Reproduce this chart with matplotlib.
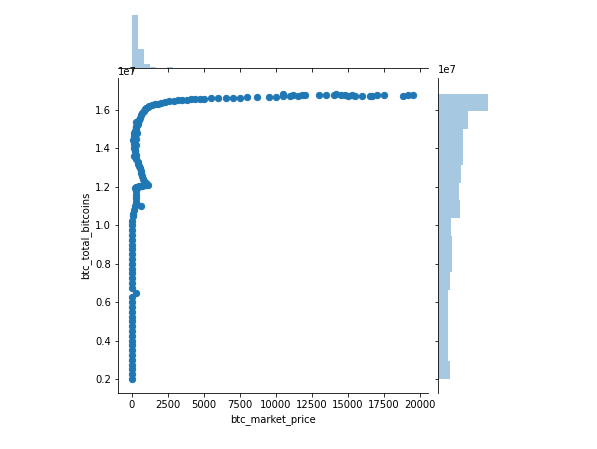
import numpy as np
import matplotlib
matplotlib.use("Agg")
import matplotlib.pyplot as plt

# ---------- data (y in millions of BTC) ----------
price = [0, 0, 0, 0, 0, 0, 0, 0, 0, 0, 0, 0, 0, 0, 0, 0, 0, 0,
         0, 0, 0, 0, 0, 0, 0, 0, 5, 5, 10, 10, 15, 20, 30, 40, 250,
         100, 150, 200, 250, 300, 600, 250, 300,
         200, 300, 400, 500, 600, 700, 800, 900, 1000, 1100,
         950, 850, 750, 700, 650, 600, 550, 500, 450, 400,
         300, 250, 200, 150, 120, 100, 120, 150, 200, 250,
         300, 350, 400, 450, 500, 550, 600, 700, 800,
         900, 1000, 1100, 1200, 1400, 1600, 1800, 2000, 2300,
         2600, 2900, 3200, 3500, 3800, 4100, 4400, 4700, 5000,
         5500, 6000, 6500, 7000, 7500, 8000, 8700, 9500, 10000,
         10500, 11000, 11500, 12000, 13000, 13500, 14000, 14500,
         15000, 15500, 16000, 16500, 17000, 17500, 18800, 19200, 19500,
         10500, 11200, 11800, 14200, 14800, 15300, 16700,
         150, 200, 250, 300, 350, 300, 250]
total_m = [2.0, 2.25, 2.5, 2.75, 3.0, 3.25, 3.5, 3.75, 4.0, 4.25, 4.5, 4.75,
           5.0, 5.25, 5.5, 5.75, 6.0, 6.25, 6.75, 7.0, 7.25, 7.5, 7.75, 8.0,
           8.25, 8.5, 8.75, 9.0, 9.25, 9.5, 9.75, 10.0, 10.25, 10.5, 6.5,
           10.6, 10.8, 11.0, 11.2, 11.4, 11.0, 11.6, 11.8,
           11.95, 12.0, 12.0, 12.05, 12.05, 12.05, 12.1, 12.1, 12.1, 12.1,
           12.2, 12.3, 12.4, 12.55, 12.7, 12.85, 13.0, 13.1, 13.2, 13.3,
           13.45, 13.65, 13.85, 14.05, 14.25, 14.45, 14.65, 14.8, 14.9, 15.0,
           15.1, 15.2, 15.3, 15.4, 15.5, 15.6, 15.75, 15.85, 15.95,
           16.05, 16.12, 16.18, 16.22, 16.26, 16.3, 16.34, 16.38, 16.42,
           16.45, 16.48, 16.5, 16.52, 16.54, 16.56, 16.57, 16.58, 16.6,
           16.61, 16.62, 16.63, 16.64, 16.65, 16.66, 16.67, 16.68, 16.7,
           16.72, 16.74, 16.75, 16.76, 16.78, 16.78, 16.77, 16.76,
           16.75, 16.74, 16.74, 16.75, 16.76, 16.77, 16.75, 16.76, 16.77,
           16.82, 16.8, 16.79, 16.82, 16.8, 16.78, 16.72,
           13.6, 13.9, 14.2, 14.5, 14.8, 15.1, 15.4]

# marginal histograms (relative heights)
price_bin_edges = [0, 410, 820, 1230, 1640, 2460, 2870]
price_counts = [1.0, 0.35, 0.08, 0.02, 0.0, 0.02]
total_bin_edges = [2.0, 2.94, 6.63, 7.57, 9.45, 10.38, 11.32, 12.20, 13.14,
                   15.01, 15.95, 16.83]
total_counts = [0.23, 0.19, 0.23, 0.27, 0.25, 0.44, 0.42, 0.46, 0.50,
                0.60, 1.0]

color = "#1f77b4"
hist_color = "#a6c8e0"

W, H = 597, 449
fig = plt.figure(figsize=(W / 72, H / 72), dpi=72)
ax = fig.add_axes([118 / W, (H - 393) / H, 310 / W, 315 / H])
ax_top = fig.add_axes([118 / W, (H - 68) / H, 310 / W, 53 / H], sharex=ax)
ax_right = fig.add_axes([438 / W, (H - 393) / H, 52 / W, 315 / H], sharey=ax)
ax_top.patch.set_visible(False)
ax_top.set_zorder(-1)

y = np.array(total_m) * 1e6
ax.scatter(price, y, s=40, color=color, zorder=3)
ax.set_xlim(-972, 20555)
ax.set_ylim(1.27e6, 1.767e7)
ax.set_xticks(range(0, 20001, 2500))
ax.set_xlabel("btc_market_price")
ax.set_ylabel("btc_total_bitcoins")
ax.spines["top"].set_visible(False)
ax.spines["right"].set_visible(False)

pe = np.array(price_bin_edges)
ax_top.bar(pe[:-1], price_counts, width=np.diff(pe), align="edge",
           color=hist_color, linewidth=0)
ax_top.set_ylim(0, 1.0)

edges = np.array(total_bin_edges) * 1e6
ax_right.barh(edges[:-1], total_counts, height=np.diff(edges), align="edge",
              color=hist_color, linewidth=0)
ax_right.set_xlim(0, 1.04)

for s in ("top", "right", "left"):
    ax_top.spines[s].set_visible(False)
for s in ("top", "right", "bottom"):
    ax_right.spines[s].set_visible(False)
ax_top.set_yticks([])
ax_top.tick_params(labelbottom=False)
ax_right.set_xticks([])
ax_right.tick_params(labelleft=False)
ax_right.text(0, 1.01, "1e7", transform=ax_right.transAxes,
              ha="left", va="bottom", fontsize=10)

fig.savefig("out.png")
